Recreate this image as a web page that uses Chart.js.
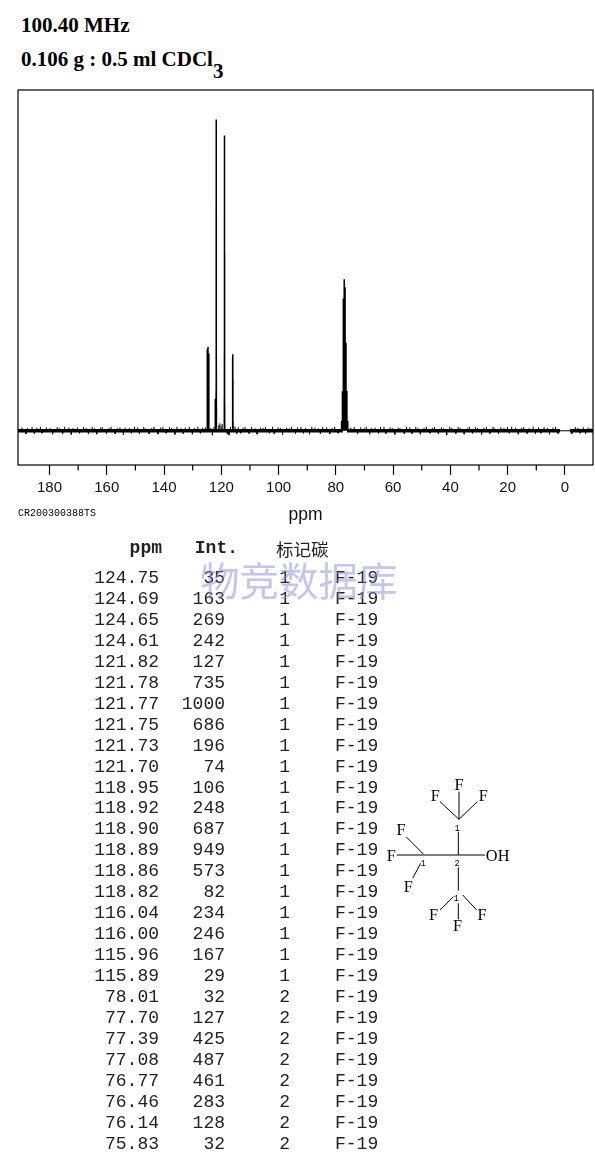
<!DOCTYPE html>
<html>
<head>
<meta charset="utf-8">
<title>100.40 MHz</title>
<script src="https://cdn.jsdelivr.net/npm/chart.js@4"></script>
<style>
html, body { margin: 0; padding: 0; background: #fff; }
#page { position: relative; width: 595px; height: 1162px; overflow: hidden; color: #000; }
#page > * { position: absolute; }
.title { left: 21px; font: bold 21px "Liberation Serif", serif; white-space: nowrap; margin: 0; }
.title sub { font-size: 21px; vertical-align: -12px; line-height: 0; }
#chartBox { left: 0; top: 0; width: 595px; height: 530px; }
#code { left: 18px; top: 508px; font: 10px/12px "Liberation Mono", monospace; }
#peaks { left: 0; top: 536px; border-collapse: collapse; font: 18px "Liberation Mono", monospace; color: #222; }
#peaks td, #peaks th { padding: 0; height: 20.96px; line-height: 20.96px; white-space: nowrap; }
#peaks th { font-weight: bold; color: #222; height: 22px; padding-bottom: 7px; }
#peaks th span { position: relative; }
#peaks .hz { font: normal 17.5px "Noto Sans CJK SC", sans-serif; text-align: left; padding-left: 51px; }
#mark { left: 200px; top: 555px; font: 39.5px/48px "Noto Sans CJK SC", sans-serif; color: rgba(140,140,215,.5); white-space: nowrap; }
#mol { left: 370px; top: 760px; }
</style>
</head>
<body>
<div id="page">
  <p class="title" style="top:13px">100.40 MHz</p>
  <p class="title" style="top:47px">0.106 g : 0.5 ml CDCl<sub>3</sub></p>
  <div id="chartBox"><canvas id="nmr" width="595" height="530"></canvas></div>
  <div id="code">CR200300388TS</div>
  <table id="peaks"><tbody id="rows"></tbody></table>
  <div id="mark">物竞数据库</div>
  <svg id="mol" width="160" height="190" viewBox="0 0 480 570">
    <g stroke="#000" stroke-width="3" fill="none">
      <path d="M267 95V178M210 125L267 178M322 125L267 178M265 215V285M80 285H345"/>
      <path d="M265 322V392M265 430V478M210 450L250 410M320 450L278 405M108 230L160 282M152 310L128 355"/>
    </g>
    <g font-family="Liberation Serif" font-size="49" text-anchor="middle">
      <text x="267" y="91">F</text><text x="196" y="122">F</text><text x="340" y="122">F</text>
      <text x="93" y="226">F</text><text x="64" y="302">F</text><text x="115" y="395">F</text>
      <text x="383" y="302">OH</text>
      <text x="191" y="481">F</text><text x="263" y="514">F</text><text x="336" y="481">F</text>
    </g>
    <g font-family="Liberation Mono" font-size="26" text-anchor="middle">
      <text x="262" y="212">1</text><text x="261" y="318">2</text>
      <text x="160" y="317">1</text><text x="259" y="424">1</text>
    </g>
  </svg>
</div>
<script>
// peak table
const ppmValues = [124.75,124.69,124.65,124.61,121.82,121.78,121.77,121.75,121.73,121.70,
	118.95,118.92,118.90,118.89,118.86,118.82,116.04,116.00,115.96,115.89,
	78.01,77.70,77.39,77.08,76.77,76.46,76.14,75.83];
const intValues = [35,163,269,242,127,735,1000,686,196,74,
	106,248,687,949,573,82,234,246,167,29,
	32,127,425,487,461,283,128,32];
const carbonLabels = [1,1,1,1,1,1,1,1,1,1,1,1,1,1,1,1,1,1,1,1,2,2,2,2,2,2,2,2];
const nucleusLabel = 'F-19';
const tableHeads = ['ppm', 'Int.', '标记碳'];

// extra stems seen in the plot but not in the listing
const shoulderPpm = [122.1,124.9,124.35];
const shoulderInt = [103,262,248];

// baseline stretches, broken under the solvent peak and thin around 0 ppm
const baselineThick = [[191,77.6],[76.1,1.7],[-1.8,-9.8]];
const baselineThin = [1.7,-1.8];

// baseline noise ticks read by eye
const noisePpm = [189.6,188.2,187.7,186.1,185.3,184.4,183.2,182.6,181.1,179.8,178.9,177.3,176.6,175.4,174.7,173.2,172.4,171.8,170.3,169.5,
	168.1,167.2,166.4,165.1,164.3,163.5,162.2,161.6,160.1,159.2,158.5,157.1,156.3,155.4,154.2,153.6,152.1,151.4,150.3,149.2,
	148.6,147.1,146.4,145.2,144.3,143.5,142.1,141.2,140.4,139.3,138.1,137.4,136.2,135.5,134.1,133.3,132.6,131.2,130.1,129.4,
	128.2,127.3,126.5,125.6,123.7,123.1,122.6,120.9,120.5,120.1,119.7,117.9,117.3,116.8,115.2,114.6,114.1,113.2,112.4,111.7,
	110.3,109.4,108.2,107.5,106.3,105.4,104.6,103.2,102.1,101.5,100.2,99.4,98.6,97.2,96.3,95.5,94.1,93.4,92.2,91.3,
	90.6,89.2,88.4,87.3,86.1,85.4,84.6,83.2,82.1,81.3,80.4,79.2,74.8,73.6,72.4,71.3,70.1,69.4,68.2,67.5,
	66.3,65.1,64.4,63.2,62.5,61.1,60.3,59.4,58.2,57.6,56.1,55.3,54.2,53.4,52.1,51.3,50.5,49.2,48.4,47.1,
	46.3,45.6,44.2,43.1,42.4,41.3,40.2,39.5,38.1,37.3,36.6,35.2,34.1,33.4,32.3,31.2,30.5,29.1,28.3,27.4,
	26.2,25.1,24.5,23.2,22.4,21.3,20.1,19.4,18.6,17.2,16.3,15.1,14.4,13.2,12.5,11.1,10.3,9.2,8.4,7.3,
	6.1,5.4,4.2,3.3,2.4,-2.4,-3.6,-4.5,-5.3,-6.4,-7.2,-8.1,-9.1];
const noiseInt = [11,-10,9,12,-9,10,13,-8,11,9,-11,12,8,-9,13,10,-12,9,11,-8,
	12,9,-10,13,8,-11,10,12,-9,9,13,-10,8,11,-12,10,9,-8,13,11,
	-9,12,8,-10,9,13,-11,10,12,-8,11,9,-12,13,8,-9,10,12,-11,9,
	13,-8,10,11,9,-14,12,18,24,16,22,-10,-14,12,14,-9,11,-8,10,12,
	-9,13,8,-11,10,9,12,-8,13,-10,11,9,-12,10,8,13,-9,11,12,-8,
	9,-11,13,10,8,-9,12,11,-10,9,13,-8,10,12,-9,11,8,13,-11,9,
	10,-8,12,13,-9,11,9,-12,10,8,-10,13,11,-9,12,8,-11,10,13,-8,
	9,12,-10,11,8,-14,13,9,-9,12,10,-11,8,13,-8,11,9,-12,10,12,
	-9,13,8,-10,11,9,12,-8,13,10,-11,9,12,-9,8,13,-10,11,-8,12,
	9,-11,10,13,-9,-10,12,9,-8,11,-9,10,8];

const ppmTicks = {min: -9.8, max: 191, step: 10, labelEvery: 20, lastMinor: 170};
const intRange = {min: -110, max: 1095};

// build the spike trace: every peak goes up from zero and back again
const stems = [];
ppmValues.concat(shoulderPpm).forEach(function(p, i){
	const h = intValues.concat(shoulderInt)[i];
	stems.push({x: p, y: 0}, {x: p, y: h}, {x: p, y: 0}, {x: NaN, y: NaN});
});
const ticksUp = [];
noisePpm.forEach(function(p, i){
	ticksUp.push({x: p, y: 0}, {x: p, y: noiseInt[i]}, {x: NaN, y: NaN});
});
const thick = [];
baselineThick.forEach(function(s){
	thick.push({x: s[0], y: 0}, {x: s[1], y: 0}, {x: NaN, y: NaN});
});

// frame round the plot and the short in-between ticks
const framePlugin = {
	id: 'frame',
	afterDraw: function(chart){
		const a = chart.chartArea, c = chart.ctx, x = chart.scales.x;
		c.save();
		c.strokeStyle = '#000';
		c.lineWidth = 1.2;
		c.strokeRect(a.left, a.top, a.right - a.left, a.bottom - a.top);
		c.beginPath();
		x.ticks.forEach(function(t){
			if (t.value % ppmTicks.labelEvery !== 0 && t.value <= ppmTicks.lastMinor) {
				const px = x.getPixelForValue(t.value);
				c.moveTo(px, a.bottom);
				c.lineTo(px, a.bottom + 5.5);
			}
		});
		c.stroke();
		c.restore();
	}
};

new Chart(document.getElementById('nmr'), {
	type: 'scatter',
	data: {
		datasets: [
			{data: thick, showLine: true, spanGaps: false, borderColor: '#000', borderWidth: 3.5, pointRadius: 0},
			{data: [{x: baselineThin[0], y: 0}, {x: baselineThin[1], y: 0}], showLine: true, borderColor: '#000', borderWidth: 1, pointRadius: 0},
			{data: ticksUp, showLine: true, spanGaps: false, borderColor: '#000', borderWidth: 1, pointRadius: 0},
			{data: stems, showLine: true, spanGaps: false, borderColor: '#000', borderWidth: 1.5, pointRadius: 0}
		]
	},
	options: {
		animation: false,
		responsive: false,
		maintainAspectRatio: false,
		events: [],
		layout: {padding: {left: 18, right: 2, top: 90, bottom: 4}},
		plugins: {legend: {display: false}, tooltip: {enabled: false}, frame: {}},
		scales: {
			x: {
				type: 'linear',
				reverse: true,
				min: ppmTicks.min,
				max: ppmTicks.max,
				grid: {
					drawOnChartArea: false,
					tickLength: 10,
					tickWidth: 1.2,
					tickColor: function(ctx){
						return ctx.tick && ctx.tick.value % ppmTicks.labelEvery === 0 ? '#000' : 'rgba(0,0,0,0)';
					}
				},
				border: {display: false},
				ticks: {
					stepSize: ppmTicks.step,
					includeBounds: false,
					autoSkip: false,
					maxRotation: 0,
					padding: 4,
					color: '#111',
					font: {family: 'Liberation Sans', size: 15},
					callback: function(v){ return v % ppmTicks.labelEvery === 0 ? String(v) : ''; }
				},
				title: {display: true, text: 'ppm', color: '#111', font: {family: 'Liberation Sans', size: 17.5}, padding: {top: 4, bottom: 0}}
			},
			y: {
				display: false,
				min: intRange.min,
				max: intRange.max
			}
		}
	},
	plugins: [framePlugin]
});

// listing under the chart
const rows = document.getElementById('rows');
const colStyle = ['width:159px;text-align:right', 'width:66px;text-align:right', 'width:65px;text-align:right', 'padding-left:45px;text-align:left'];
let head = '<tr><th style="' + colStyle[0] + '"><span style="left:3px">' + tableHeads[0] + '</span></th>'
	+ '<th style="' + colStyle[1] + '"><span style="left:13px">' + tableHeads[1] + '</span></th>'
	+ '<th colspan="2" class="hz">' + tableHeads[2] + '</th></tr>';
let body = '';
ppmValues.forEach(function(p, i){
	body += '<tr><td style="' + colStyle[0] + '">' + p.toFixed(2) + '</td>'
		+ '<td style="' + colStyle[1] + '">' + intValues[i] + '</td>'
		+ '<td style="' + colStyle[2] + '">' + carbonLabels[i] + '</td>'
		+ '<td style="' + colStyle[3] + '">' + nucleusLabel + '</td></tr>';
});
rows.innerHTML = head + body;
</script>
</body>
</html>
